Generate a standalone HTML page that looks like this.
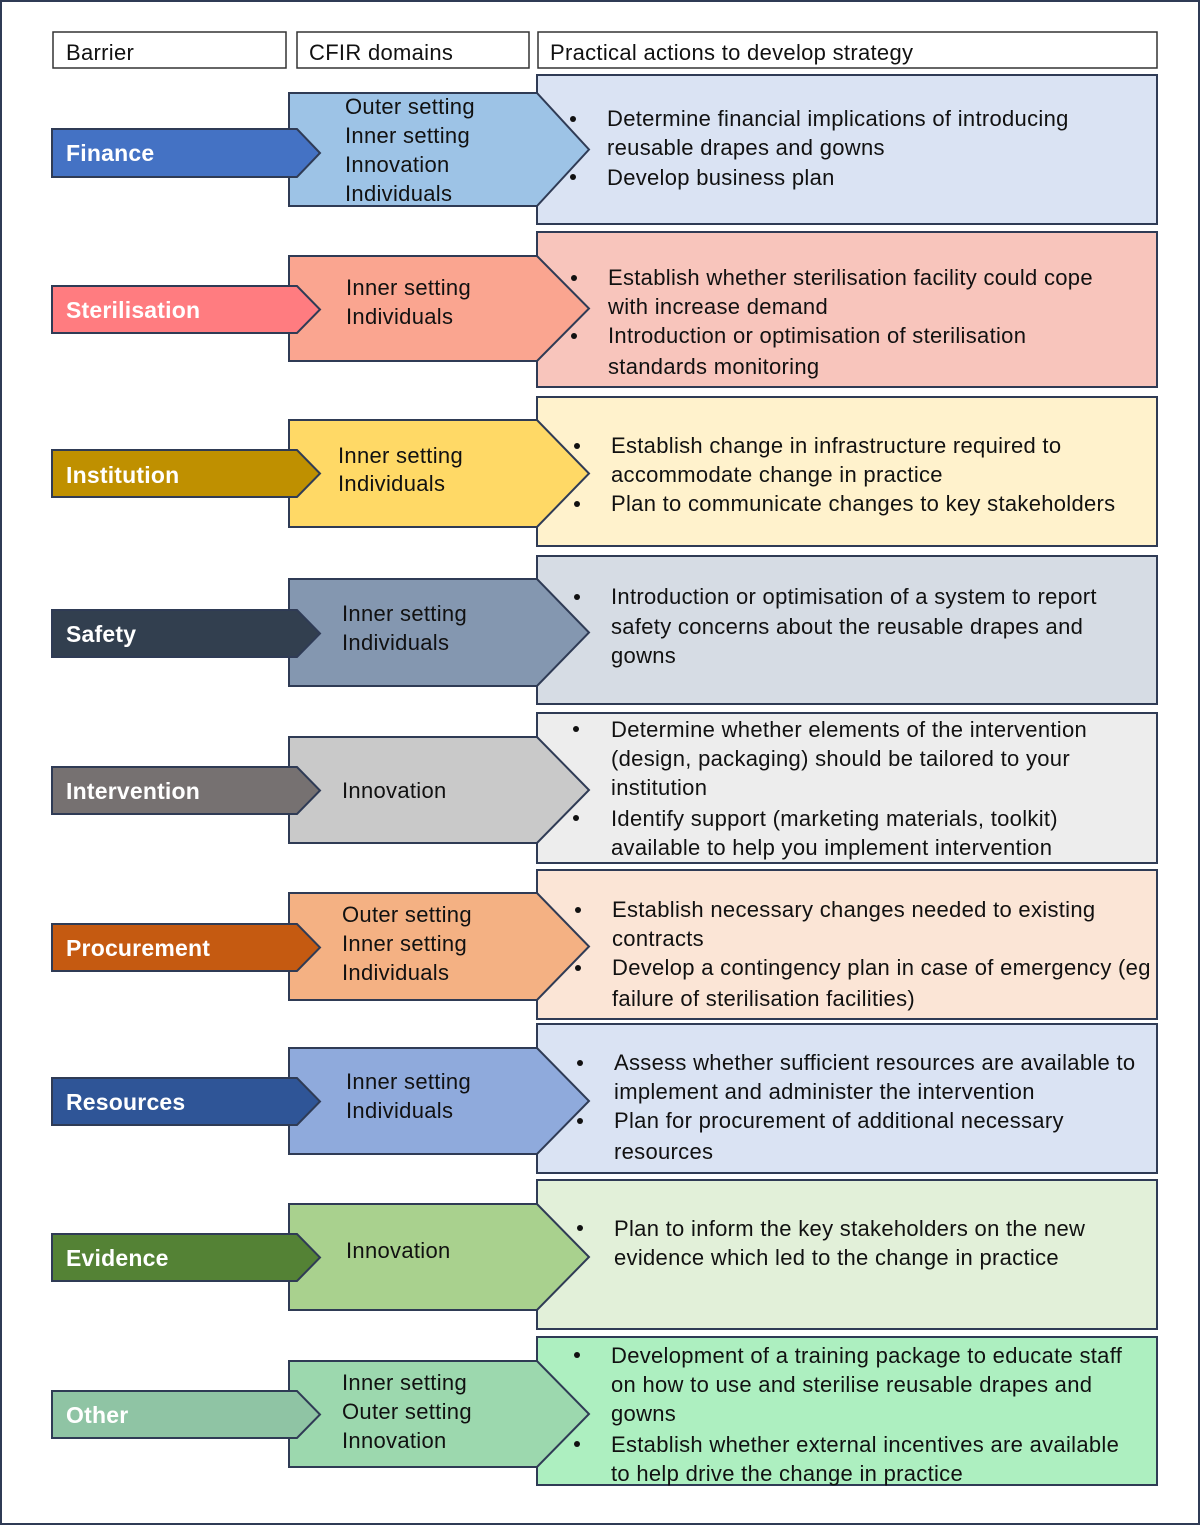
<!DOCTYPE html>
<html><head><meta charset="utf-8"><style>
html,body{margin:0;padding:0;background:#fff}
svg{display:block}
text{font-family:"Liberation Sans",sans-serif;font-size:22px;letter-spacing:0.3px;fill:#111}
.b{font-weight:bold;fill:#fff;font-size:23px;letter-spacing:0.2px}
</style></head><body>
<svg width="1200" height="1526" viewBox="0 0 1200 1526" xmlns="http://www.w3.org/2000/svg">
<rect x="1" y="1" width="1198" height="1523" fill="#fff" stroke="#2F3B55" stroke-width="2"/>
<g fill="#fff" stroke="#333" stroke-width="1.5">
<rect x="53" y="32" width="233" height="36"/><rect x="297" y="32" width="232" height="36"/><rect x="538" y="32" width="619" height="36"/>
</g>
<text x="66" y="60">Barrier</text><text x="309" y="60">CFIR domains</text><text x="550" y="60">Practical actions to develop strategy</text>
<g stroke="#2F3B55" stroke-width="2">
<rect x="537" y="75" width="620" height="149" fill="#DAE3F3"/>
<polygon points="289,93 537,93 589,149.5 537,206 289,206" fill="#9DC3E6"/>
<polygon points="52,129 297,129 320,153 297,177 52,177" fill="#4472C4"/>
<rect x="537" y="232" width="620" height="155" fill="#F8C5BC"/>
<polygon points="289,256 537,256 589,308.5 537,361 289,361" fill="#FAA590"/>
<polygon points="52,286 297,286 320,309.5 297,333 52,333" fill="#FF7C80"/>
<rect x="537" y="397" width="620" height="149" fill="#FFF2CC"/>
<polygon points="289,420 537,420 589,473.5 537,527 289,527" fill="#FFD966"/>
<polygon points="52,450 297,450 320,473.5 297,497 52,497" fill="#BF9000"/>
<rect x="537" y="556" width="620" height="148" fill="#D6DCE4"/>
<polygon points="289,579 537,579 589,632.5 537,686 289,686" fill="#8497B0"/>
<polygon points="52,610 297,610 320,633.5 297,657 52,657" fill="#323F4F"/>
<rect x="537" y="713" width="620" height="150" fill="#EDEDED"/>
<polygon points="289,737 537,737 589,790 537,843 289,843" fill="#C9C9C9"/>
<polygon points="52,767 297,767 320,790.5 297,814 52,814" fill="#767171"/>
<rect x="537" y="870" width="620" height="149" fill="#FBE5D6"/>
<polygon points="289,893 537,893 589,946.5 537,1000 289,1000" fill="#F4B183"/>
<polygon points="52,924 297,924 320,947.5 297,971 52,971" fill="#C55A11"/>
<rect x="537" y="1024" width="620" height="149" fill="#DAE3F3"/>
<polygon points="289,1048 537,1048 589,1101 537,1154 289,1154" fill="#8FAADC"/>
<polygon points="52,1078 297,1078 320,1101.5 297,1125 52,1125" fill="#2F5597"/>
<rect x="537" y="1180" width="620" height="149" fill="#E2F0D9"/>
<polygon points="289,1204 537,1204 589,1257 537,1310 289,1310" fill="#A9D18E"/>
<polygon points="52,1234 297,1234 320,1257.5 297,1281 52,1281" fill="#548235"/>
<rect x="537" y="1337" width="620" height="148" fill="#ADEFC0"/>
<polygon points="289,1361 537,1361 589,1414 537,1467 289,1467" fill="#9CD8AE"/>
<polygon points="52,1391 297,1391 320,1414.5 297,1438 52,1438" fill="#8FC4A4"/>
</g>
<text class="b" x="66" y="161">Finance</text>
<text class="b" x="66" y="318">Sterilisation</text>
<text class="b" x="66" y="483">Institution</text>
<text class="b" x="66" y="642">Safety</text>
<text class="b" x="66" y="799">Intervention</text>
<text class="b" x="66" y="956">Procurement</text>
<text class="b" x="66" y="1110">Resources</text>
<text class="b" x="66" y="1266">Evidence</text>
<text class="b" x="66" y="1423">Other</text>
<text x="345" y="114">Outer setting</text><text x="345" y="143">Inner setting</text><text x="345" y="172">Innovation</text><text x="345" y="201">Individuals</text>
<text x="346" y="295">Inner setting</text><text x="346" y="324">Individuals</text>
<text x="338" y="463">Inner setting</text><text x="338" y="491">Individuals</text>
<text x="342" y="621">Inner setting</text><text x="342" y="650">Individuals</text>
<text x="342" y="798">Innovation</text>
<text x="342" y="922">Outer setting</text><text x="342" y="951">Inner setting</text><text x="342" y="980">Individuals</text>
<text x="346" y="1089">Inner setting</text><text x="346" y="1118">Individuals</text>
<text x="346" y="1258">Innovation</text>
<text x="342" y="1390">Inner setting</text><text x="342" y="1419">Outer setting</text><text x="342" y="1448">Innovation</text>
<g fill="#111">
<circle cx="573" cy="119" r="3"/><circle cx="573" cy="177" r="3"/>
<circle cx="574" cy="278" r="3"/><circle cx="574" cy="336" r="3"/>
<circle cx="577" cy="446" r="3"/><circle cx="577" cy="504" r="3"/>
<circle cx="577" cy="597" r="3"/>
<circle cx="576" cy="729" r="3"/><circle cx="576" cy="818" r="3"/>
<circle cx="578" cy="910" r="3"/><circle cx="578" cy="968" r="3"/>
<circle cx="580" cy="1063" r="3"/><circle cx="580" cy="1121" r="3"/>
<circle cx="580" cy="1228" r="3"/>
<circle cx="577" cy="1355" r="3"/><circle cx="577" cy="1444" r="3"/>
</g>
<text x="607" y="126">Determine financial implications of introducing</text>
<text x="607" y="155">reusable drapes and gowns</text>
<text x="607" y="185">Develop business plan</text>
<text x="608" y="285">Establish whether sterilisation facility could cope</text>
<text x="608" y="314">with increase demand</text>
<text x="608" y="343">Introduction or optimisation of sterilisation</text>
<text x="608" y="374">standards monitoring</text>
<text x="611" y="453">Establish change in infrastructure required to</text>
<text x="611" y="482">accommodate change in practice</text>
<text x="611" y="511">Plan to communicate changes to key stakeholders</text>
<text x="611" y="604">Introduction or optimisation of a system to report</text>
<text x="611" y="634">safety concerns about the reusable drapes and</text>
<text x="611" y="663">gowns</text>
<text x="611" y="737">Determine whether elements of the intervention</text>
<text x="611" y="766">(design, packaging) should be tailored to your</text>
<text x="611" y="795">institution</text>
<text x="611" y="826">Identify support (marketing materials, toolkit)</text>
<text x="611" y="855">available to help you implement intervention</text>
<text x="612" y="917">Establish necessary changes needed to existing</text>
<text x="612" y="946">contracts</text>
<text x="612" y="975">Develop a contingency plan in case of emergency (eg</text>
<text x="612" y="1006">failure of sterilisation facilities)</text>
<text x="614" y="1070">Assess whether sufficient resources are available to</text>
<text x="614" y="1099">implement and administer the intervention</text>
<text x="614" y="1128">Plan for procurement of additional necessary</text>
<text x="614" y="1159">resources</text>
<text x="614" y="1236">Plan to inform the key stakeholders on the new</text>
<text x="614" y="1265">evidence which led to the change in practice</text>
<text x="611" y="1363">Development of  a training package to educate staff</text>
<text x="611" y="1392">on how to use and sterilise reusable drapes and</text>
<text x="611" y="1421">gowns</text>
<text x="611" y="1452">Establish whether external incentives are available</text>
<text x="611" y="1481">to help drive the change in practice</text>
</svg>
</body></html>
